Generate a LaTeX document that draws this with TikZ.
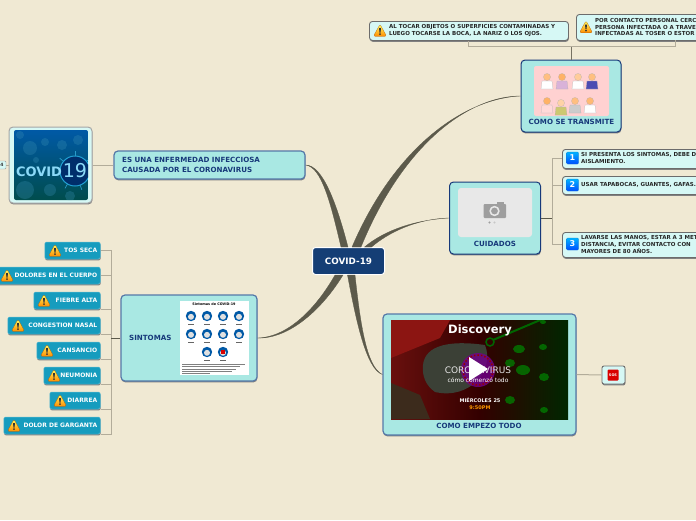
\documentclass[tikz,border=0pt]{standalone}
\usepackage{fontspec}
\setmainfont{DejaVu Sans}
\usetikzlibrary{shadows}
\definecolor{paper}{HTML}{F0E9D3}
\definecolor{aqua}{HTML}{A9E8E3}
\definecolor{pale}{HTML}{D6F8F5}
\definecolor{navy}{HTML}{17397A}
\definecolor{deep}{HTML}{153E75}
\definecolor{steel}{HTML}{5578A8}
\definecolor{tealbox}{HTML}{169CBE}
\definecolor{trunk}{HTML}{5C5A4B}
\definecolor{twigcol}{HTML}{B2AC9A}
\definecolor{handcol}{HTML}{3B4036}
\definecolor{wallred}{HTML}{8C1512}
\definecolor{floorcol}{HTML}{3C2B1C}
\tikzset{
    softshadow/.style={general shadow={fill=black!50, shadow xshift=0.4pt, shadow yshift=-1.4pt}},
    bigcard/.style={draw=navy, line width=1pt, fill=aqua, rounded corners=4pt, softshadow},
    softcard/.style={bigcard, draw=steel, line width=1.2pt},
    caption/.style={text=navy, font=\fontsize{7.1}{10}\selectfont\bfseries, align=left, inner sep=0pt},
    leafcard/.style={draw=gray!85!black, line width=0.9pt, fill=pale, rounded corners=3pt, softshadow, anchor=north west, inner sep=0pt},
    leaftext/.style={text=black!85, font=\fontsize{5.5}{6.6}\selectfont\bfseries, align=left, anchor=west, inner sep=0pt},
    symcard/.style={fill=tealbox, draw=tealbox!70!white, line width=0.5pt, rounded corners=2pt, softshadow,
        text=white, font=\fontsize{6}{8}\selectfont\bfseries, align=flush right, anchor=east, inner xsep=3pt},
    twig/.style={draw=twigcol, line width=1pt},
    branch/.style={fill=trunk, draw=trunk, line width=0.3pt},
    warnicon/.pic={
        \shade[top color=yellow!60!white, bottom color=orange!90!yellow, draw=orange!70!black, line width=0.2pt, rounded corners=1.5pt]
            (0, -6.3) -- (6.6, 5.8) -- (-6.6, 5.8) -- cycle;
        \fill[black!80] (-0.9, -2.4) -- (0.9, -2.4) -- (0.6, 2) -- (-0.6, 2) -- cycle;
        \fill[black!80] (0, 3.6) circle (0.95);
    },
    numicon/.style={top color=cyan!70!blue, bottom color=blue!70!cyan, draw=cyan!60!blue, line width=0.3pt, rounded corners=1pt, minimum size=12pt, inner sep=0pt,
        text=white, font=\fontsize{8}{8}\selectfont\bfseries},
}
\begin{document}
\begin{tikzpicture}[x=1pt, y=-1pt]
    \path[use as bounding box, clip] (0, 0) rectangle (696, 520);
    \fill[paper] (0, 0) rectangle (696, 520);

    % centre
    \node[fill=deep, draw=white, line width=1pt, rounded corners=3pt, minimum width=72pt, minimum height=27pt,
        text=white, font=\fontsize{8.8}{10}\selectfont\bfseries] (root) at(348.5, 261) {COVID-19};

    % left side
    \node[softcard, minimum width=191pt, minimum height=28pt] (enf) at(209.5, 165) {};
    \node[caption, anchor=west] at(122, 165) {ES UNA ENFERMEDAD INFECCIOSA\\CAUSADA POR EL CORONAVIRUS};
    \node[draw=gray!70, line width=1pt, fill=pale, rounded corners=4pt, softshadow, minimum width=83pt, minimum height=76pt] (virus) at(50.5, 165) {};
    \begin{scope}
        \clip[rounded corners=2pt] (14, 130) rectangle (88, 200);
        \shade[top color=teal!70!blue, bottom color=teal!60!black] (14, 130) rectangle (88, 200);
        \foreach \cx/\cy/\cr in {30/148/7, 45/142/4, 62/145/5, 25/190/9, 50/190/6, 36/160/3, 78/140/5, 20/135/4, 70/196/5}
            \fill[cyan!40!teal, opacity=0.3] (\cx, \cy) circle (\cr);
        \fill[blue!40!teal!60!black] (75, 171) circle (15);
        \draw[cyan!70!teal, line width=1pt] (75, 171) circle (15);
        \foreach \ang in {20, 70, ..., 340}
            \draw[cyan!60!teal, line width=0.7pt] (75, 171) ++(\ang:15) -- ++(\ang:5);
        \node[text=cyan!45!white, font=\fontsize{13}{14}\selectfont\bfseries, inner sep=0pt] at(39, 171.5) {COVID};
        \node[text=cyan!45!white, font=\fontsize{19}{19}\selectfont, inner sep=0pt] at(75, 170.5) {19};
    \end{scope}
    \node[draw=gray!80, fill=pale, rounded corners=1pt, minimum width=8pt, minimum height=8pt, inner sep=0pt,
        text=black!80, font=\fontsize{4.5}{5}\selectfont\bfseries] (badge) at(2, 165) {4};

    % sintomas
    \node[softcard, minimum width=136pt, minimum height=86pt] (sint) at(189, 338) {};
    \node[caption, anchor=west] at(129, 338) {SINTOMAS};
    \fill[white] (180, 301) rectangle (249, 375);
    \node[text=black, font=\fontsize{3.4}{4}\selectfont\bfseries, inner sep=0pt] at(214, 304) {Síntomas de COVID-19};
    \foreach \cx/\cy in {191/316, 207/316, 223/316, 239/316, 191/334, 207/334, 223/334, 239/334, 207/352, 223/352} {
        \fill[teal!70!blue] (\cx, \cy) circle (5.2);
        \fill[black!12] (\cx, \cy + 0.8) circle (3);
        \fill[black!60] (\cx - 3, \cy + 8) rectangle (\cx + 3, \cy + 9);
    }
    \fill[red!85!black] (221, 350) rectangle (225, 354);
    \foreach \ly/\lx in {364/245, 366/240, 368.5/236, 371/232, 373/210}
        \fill[black!50] (182, \ly) rectangle (\lx, \ly + 0.7);

    \foreach \sname/\lft/\ytop/\txt in {tos/45/242/TOS SECA, dolores/-3/267/DOLORES EN EL CUERPO, fiebre/34/292/FIEBRE ALTA,
            congest/8/317/CONGESTION NASAL, cansa/37/342/CANSANCIO, neumo/44/367/NEUMONIA, diarrea/50/392/DIARREA, garganta/4/417/DOLOR DE GARGANTA} {
        \pgfmathsetmacro{\boxw}{100.5 - \lft - 6}
        \pgfmathsetmacro{\ymid}{\ytop + 8.5}
        \node[symcard, text width=\boxw pt, minimum height=17pt] (\sname) at(100.5, \ymid) {\txt};
        \pic at(\lft + 10, \ymid) {warnicon};
    }

    % como se transmite
    \node[bigcard, minimum width=100pt, minimum height=72pt] (trans) at(571, 96) {};
    \fill[red!18!white, rounded corners=2pt] (534, 66) rectangle (609, 116);
    \foreach \cx/\cy/\skin/\coat in {547/78/orange!50!white/white, 562/78/orange!60!white/violet!30!white, 578/78/orange!40!white/white, 592/78/orange!50!white/blue!40!gray,
            547/102/orange!60!white/red!15!white, 561/104/orange!35!white/olive!45!white, 575/102/orange!50!white/gray!40!white, 590/102/orange!55!white/white} {
        \fill[\coat, draw=gray!60, line width=0.2pt] (\cx - 6, \cy + 11) -- (\cx - 5, \cy + 3) -- (\cx + 5, \cy + 3) -- (\cx + 6, \cy + 11) -- cycle;
        \fill[\skin, draw=gray!60, line width=0.2pt] (\cx, \cy - 1) circle (3.6);
    }
    \node[caption] at(571.5, 122) {COMO SE TRANSMITE};
    \node[leafcard, minimum width=199pt, minimum height=19pt] (objetos) at(369, 21) {};
    \node[leaftext] at(389, 30.5) {AL TOCAR OBJETOS O SUPERFICIES CONTAMINADAS Y\\LUEGO TOCARSE LA BOCA, LA NARIZ O LOS OJOS.};
    \pic at(380, 30.5) {warnicon};
    \node[leafcard, minimum width=140pt, minimum height=26pt] (contacto) at(576, 14) {};
    \node[leaftext] at(595, 27) {POR CONTACTO PERSONAL CERC\\PERSONA INFECTADA O A TRAVE\\INFECTADAS AL TOSER O ESTOR};
    \pic at(586, 27) {warnicon};

    % cuidados
    \node[bigcard, minimum width=91pt, minimum height=72pt] (cuid) at(495, 218) {};
    \fill[black!9, rounded corners=3pt] (458, 188) rectangle (532, 237);
    \fill[black!38, rounded corners=1pt] (483.5, 204) rectangle (506, 218);
    \fill[black!38] (497, 202) rectangle (504, 205);
    \fill[black!9] (494.5, 211) circle (5.2);
    \fill[black!38] (494.5, 211) circle (3.4);
    \fill[black!38] (489.5, 222.5) circle (1.1);
    \fill[black!22] (494.5, 222.5) circle (1.1);
    \node[caption] at(495, 244) {CUIDADOS};
    \node[leafcard, minimum width=140pt, minimum height=19pt] (aisla) at(562, 149) {};
    \node[leafcard, minimum width=140pt, minimum height=18pt] (tapa) at(562, 176) {};
    \node[leafcard, minimum width=140pt, minimum height=25pt] (lavar) at(562, 232) {};
    \node[numicon] at(572.5, 158) {1};
    \node[numicon] at(572.5, 185) {2};
    \node[numicon] at(572.5, 244) {3};
    \node[leaftext] at(581, 158) {SI PRESENTA LOS SINTOMAS, DEBE D\\AISLAMIENTO.};
    \node[leaftext] at(581, 185) {USAR TAPABOCAS, GUANTES, GAFAS.};
    \node[leaftext] at(581, 244.5) {LAVARSE LAS MANOS, ESTAR A 3 MET\\DISTANCIA, EVITAR CONTACTO CON\\MAYORES DE 80 AÑOS.};

    % como empezo todo
    \node[softcard, minimum width=193pt, minimum height=121pt] (video) at(479.5, 374.5) {};
    \begin{scope}
        \clip (391, 320) rectangle (568, 419);
        \shade[left color=wallred!75!black, right color=green!15!black, middle color=black!80!red] (391, 320) rectangle (568, 419);
        \fill[wallred] (391, 320) -- (450, 320) -- (440, 338) -- (391, 358) -- cycle;
        \fill[floorcol] (391, 383) -- (420, 395) -- (430, 419) -- (391, 419) -- cycle;
        \fill[handcol] (423, 365) .. controls (425, 345) and (450, 340) .. (485, 345) .. controls (495, 370) and (470, 400) .. (435, 392) .. controls (425, 385) and (422, 375) .. (423, 365);
        \foreach \cx/\cy/\rw/\rh in {519/349/6/4, 510/363/5/4, 523/370/7/5, 544/377/5/4, 543/347/4/3, 543/322/3/2, 544/410/4/3, 510/400/5/4}
            \fill[green!50!black, opacity=0.75] (\cx, \cy) ellipse (\rw pt and \rh pt);
        \draw[black!60!green, line width=2pt] (493, 340) -- (545, 318);
        \draw[green!40!black, line width=1.5pt] (490, 342) circle (4);
        \fill[purple!60!blue, opacity=0.8] (478, 370) circle (17);
        \draw[red!60!black, dotted, line width=1.5pt] (478, 370) circle (15);
        \node[text=white, font=\fontsize{11.5}{12}\selectfont\bfseries, inner sep=0pt] at(480, 330) {Discovery};
        \node[text=white!90!black, font=\fontsize{9}{10}\selectfont, inner sep=0pt] at(478, 370) {CORONAVIRUS};
        \node[text=white, font=\fontsize{6}{7}\selectfont, inner sep=0pt] at(478, 380) {cómo comenzó todo};
        \node[text=white, font=\fontsize{5}{6}\selectfont\bfseries, inner sep=0pt] at(480, 400) {MIÉRCOLES 25};
        \node[text=orange!80!yellow, font=\fontsize{5}{6}\selectfont\bfseries, inner sep=0pt] at(480, 407.5) {9:50PM};
        \fill[white] (469, 357) -- (488, 369) -- (469, 381) -- cycle;
    \end{scope}
    \node[caption] at(479, 425.5) {COMO EMPEZO TODO};
    \node[draw=gray!85!black, line width=0.9pt, fill=pale, rounded corners=2pt, softshadow, minimum width=23pt, minimum height=18pt] (sosbox) at(613.5, 375) {};
    \node[fill=red!85!black, rounded corners=1pt, minimum size=11pt, inner sep=0pt, text=white, font=\fontsize{3.5}{4}\selectfont\bfseries] at(613, 375) {SOS};

    % main branches
    \fill[branch] (enf.east) .. controls (322, 167) and (331, 205) .. ([xshift=-7.5]root.north) -- ([xshift=-0.5]root.north) .. controls (337, 205) and (323, 165) .. (enf.east);
    \fill[branch] (trans.west) .. controls (470, 98) and (398, 140) .. ([xshift=3.5]root.north) -- ([xshift=12.5]root.north) .. controls (404, 142) and (470, 96) .. (trans.west);
    \fill[branch] (cuid.west) .. controls (415, 220) and (385, 230) .. ([xshift=16]root.north) -- ([xshift=23]root.north) .. controls (388, 233) and (415, 219) .. (cuid.west);
    \fill[branch] (sint.east) .. controls (290, 337) and (318, 305) .. ([xshift=-13.5]root.south) -- ([xshift=-5.5]root.south) .. controls (323, 308) and (290, 339) .. (sint.east);
    \fill[branch] (video.west) .. controls (366, 369) and (356, 320) .. ([xshift=-1]root.south) -- ([xshift=6.5]root.south) .. controls (360, 320) and (366, 367) .. (video.west);

    % thin links
    \draw[twig] (virus.east) -- (enf.west);
    \draw[twig] (badge.east) -- (virus.west);
    \coordinate (symhub) at(111, 338);
    \foreach \tip in {tos.east, dolores.east, fiebre.south east, congest.south east, cansa.south east, neumo.south east, diarrea.south east, garganta.south east}
        \draw[twig] (symhub) |- (\tip);
    \draw[trunk, line width=1pt] (sint.west) -- (symhub);
    \coordinate (transhub) at(571, 46);
    \draw[trunk!70!twigcol, line width=1pt] (trans.north) -- (transhub);
    \draw[twig] (transhub) -| (objetos.south);
    \draw[twig] (transhub) -| (675, 40);
    \coordinate (cuidhub) at(552, 218);
    \draw[trunk, line width=1pt] (cuid.east) -- (cuidhub);
    \foreach \tip in {aisla.west, tapa.west, lavar.west}
        \draw[twig] (cuidhub) |- (\tip);
    \draw[twig] (video.east) -- (sosbox.west);
\end{tikzpicture}
\end{document}
